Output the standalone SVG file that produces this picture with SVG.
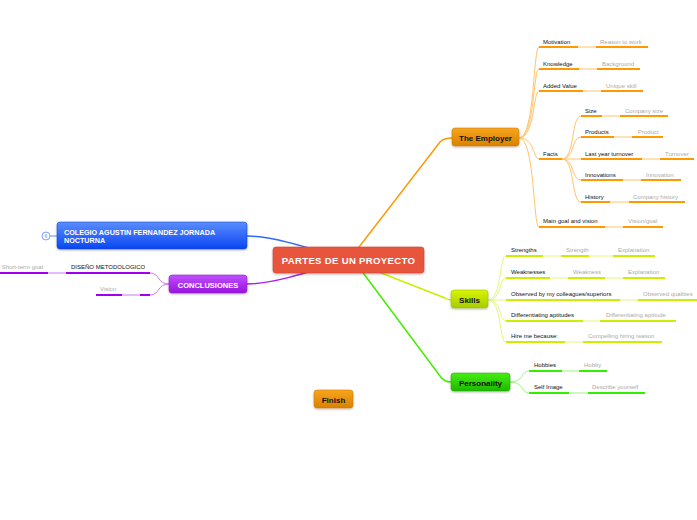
<svg xmlns="http://www.w3.org/2000/svg" width="697" height="520" viewBox="0 0 697 520">
<defs>
<linearGradient id="gOr" x1="0" y1="0" x2="0" y2="1"><stop offset="0" stop-color="#f7a51c"/><stop offset="1" stop-color="#d98100"/></linearGradient>
<linearGradient id="gLi" x1="0" y1="0" x2="0" y2="1"><stop offset="0" stop-color="#d8f500"/><stop offset="1" stop-color="#a6cc00"/></linearGradient>
<linearGradient id="gGr" x1="0" y1="0" x2="0" y2="1"><stop offset="0" stop-color="#44ee11"/><stop offset="1" stop-color="#1fb800"/></linearGradient>
<linearGradient id="gBl" x1="0" y1="0" x2="0" y2="1"><stop offset="0" stop-color="#5a8cff"/><stop offset="1" stop-color="#0a46f0"/></linearGradient>
<linearGradient id="gPu" x1="0" y1="0" x2="0" y2="1"><stop offset="0" stop-color="#c050ff"/><stop offset="1" stop-color="#9a12dd"/></linearGradient>
<filter id="sh" x="-10%" y="-20%" width="120%" height="150%"><feDropShadow dx="0" dy="1" stdDeviation="0.8" flood-color="#000" flood-opacity="0.3"/></filter>
</defs>
<style>
text{font-family:"Liberation Sans",Arial,sans-serif}
.nt{font-weight:bold;font-size:8px}
.c{font-size:6px;fill:#111}
.g{font-size:6px;fill:#aaa}
.u{fill:none;stroke-width:2}
.t{fill:none;stroke-width:1}
.o{stroke:#ff9900}.ol{stroke:#ffc46b}
.l{stroke:#ccee00}.ll{stroke:#e2f77a}
.e{stroke:#33ee00}.el{stroke:#99f57a}
.p{stroke:#a000ee}.pl{stroke:#cc77f7}
</style>
<rect width="697" height="520" fill="#fff"/>
<g id="connectors">
<path d="M349,260 L440,142 Q444,138 452,138" fill="none" stroke="#ff9900" stroke-width="1.5"/>
<path d="M348,260 L445,298 Q448,300 451,300" fill="none" stroke="#ccee00" stroke-width="1.5"/>
<path d="M355,262 L440,376 Q444,382 451,382" fill="none" stroke="#44ee00" stroke-width="1.5"/>
<path d="M348,260 C300,245 270,236 247,236" fill="none" stroke="#3366ff" stroke-width="1.5"/>
<path d="M348,260 C300,275 270,284 247,284" fill="none" stroke="#aa22ee" stroke-width="1.5"/>
<g class="t ol">
<path d="M519,138 C535,138 533,47 539,47"/>
<path d="M519,138 C535,138 533,69 539,69"/>
<path d="M519,138 C535,138 533,91 539,91"/>
<path d="M519,138 C535,138 533,159 539,159"/>
<path d="M519,138 C535,138 533,227 539,227"/>
<path d="M562,159 C575,159 571,116 581,116"/>
<path d="M562,159 C575,159 571,137 581,137"/>
<path d="M562,159 L581,159"/>
<path d="M562,159 C575,159 571,180 581,180"/>
<path d="M562,159 C575,159 571,202 581,202"/>
<path d="M578,47 H596 M579,69 H597 M583,91 H601 M602,116 H620 M614,137 H632 M642,159 H660 M623,180 H641 M610,202 H629 M605,227 H623"/>
</g>
<g class="t ll">
<path d="M488,300 C502,300 499,256 506,256"/>
<path d="M488,300 C502,300 499,278 506,278"/>
<path d="M488,300 L506,300"/>
<path d="M488,300 C502,300 499,321 506,321"/>
<path d="M488,300 C502,300 499,342 506,342"/>
<path d="M543,256 H561 M589,256 H613 M550,278 H568 M605,278 H623 M620,300 H638 M583,321 H600 M565,342 H583"/>
</g>
<g class="t el">
<path d="M510,382 C524,382 521,371 529,371"/>
<path d="M510,382 C524,382 521,393 529,393"/>
<path d="M562,371 H579 M569,393 H588"/>
</g>
<g class="t pl">
<path d="M169,284 C157,284 160,273 150,273"/>
<path d="M169,284 C157,284 160,295 150,295"/>
<path d="M48,273 H66 M122,295 H140"/>
</g>
<line x1="50" y1="236" x2="57" y2="236" stroke="#5a8cff" stroke-width="1"/>
</g>
<g id="center"><rect x="273" y="247" width="151" height="26" rx="3" fill="#e8553e" stroke="#d0432e" stroke-width="0.6" filter="url(#sh)"/><text x="348.5" y="264" text-anchor="middle" font-weight="bold" font-size="9.6" letter-spacing="0.3" fill="#fff">PARTES DE UN PROYECTO</text></g>
<g id="employer"><rect x="452" y="128" width="67" height="18" rx="3" fill="url(#gOr)" stroke="#c97600" stroke-width="0.5" filter="url(#sh)"/><text class="nt" x="485.5" y="140.5" text-anchor="middle" fill="#111">The Employer</text></g>
<g id="skills"><rect x="451" y="290" width="37" height="18" rx="3" fill="url(#gLi)" stroke="#9abb00" stroke-width="0.5" filter="url(#sh)"/><text class="nt" x="469.5" y="302.5" text-anchor="middle" fill="#111">Skills</text></g>
<g id="personality"><rect x="451" y="373" width="59" height="18" rx="3" fill="url(#gGr)" stroke="#1aa000" stroke-width="0.5" filter="url(#sh)"/><text class="nt" x="480.5" y="385.5" text-anchor="middle" fill="#111">Personality</text></g>
<g id="finish"><rect x="314" y="390" width="39" height="18" rx="3" fill="url(#gOr)" stroke="#c97600" stroke-width="0.5" filter="url(#sh)"/><text class="nt" x="333.5" y="402.5" text-anchor="middle" fill="#111">Finish</text></g>
<g id="colegio"><rect x="57" y="222" width="190" height="27" rx="3" fill="url(#gBl)" stroke="#0a3fd0" stroke-width="0.5" filter="url(#sh)"/><text x="64" y="234.5" font-weight="bold" font-size="7.2" fill="#fff">COLEGIO AGUSTIN FERNANDEZ JORNADA</text><text x="64" y="243" font-weight="bold" font-size="7.2" fill="#fff">NOCTURNA</text>
<circle cx="46" cy="236" r="4" fill="#fff" stroke="#5a8cff" stroke-width="0.8"/><text x="46" y="238" text-anchor="middle" font-size="5" fill="#5a8cff">6</text></g>
<g id="conclusiones"><rect x="169" y="275" width="78" height="18" rx="3" fill="url(#gPu)" stroke="#8a10c8" stroke-width="0.5" filter="url(#sh)"/><text x="208" y="287.5" text-anchor="middle" font-weight="bold" font-size="7.5" fill="#fff">CONCLUSIONES</text></g>
<g id="employer-children">
<g id="motivation"><path class="u o" d="M539,47 H578"/><text class="c" x="543" y="44">Motivation</text></g>
<g id="reason"><path class="u o" d="M596,47 H648"/><text class="g" x="600" y="44">Reason to work</text></g>
<g id="knowledge"><path class="u o" d="M539,69 H579"/><text class="c" x="543" y="66">Knowledge</text></g>
<g id="background"><path class="u o" d="M597,69 H640"/><text class="g" x="602" y="66">Background</text></g>
<g id="addedvalue"><path class="u o" d="M539,91 H583"/><text class="c" x="543" y="88">Added Value</text></g>
<g id="unique"><path class="u o" d="M601,91 H643"/><text class="g" x="606" y="88">Unique skill</text></g>
<g id="facts"><path class="u o" d="M539,159 H562"/><text class="c" x="543" y="156">Facts</text></g>
<g id="size"><path class="u o" d="M581,116 H602"/><text class="c" x="585" y="113">Size</text></g>
<g id="companysize"><path class="u o" d="M620,116 H668"/><text class="g" x="625" y="113">Company size</text></g>
<g id="products"><path class="u o" d="M581,137 H614"/><text class="c" x="585" y="134">Products</text></g>
<g id="product"><path class="u o" d="M632,137 H663"/><text class="g" x="638" y="134">Product</text></g>
<g id="turnover1"><path class="u o" d="M581,159 H642"/><text class="c" x="585" y="156">Last year turnover</text></g>
<g id="turnover2"><path class="u o" d="M660,159 H694"/><text class="g" x="665" y="156">Turnover</text></g>
<g id="innovations"><path class="u o" d="M581,180 H623"/><text class="c" x="585" y="177">Innovations</text></g>
<g id="innovation"><path class="u o" d="M641,180 H681"/><text class="g" x="646" y="177">Innovation</text></g>
<g id="history"><path class="u o" d="M581,202 H610"/><text class="c" x="585" y="199">History</text></g>
<g id="companyhistory"><path class="u o" d="M629,202 H685"/><text class="g" x="633" y="199">Company history</text></g>
<g id="maingoal"><path class="u o" d="M539,227 H605"/><text class="c" x="543" y="223">Main goal and vision</text></g>
<g id="visiongoal"><path class="u o" d="M623,227 H663"/><text class="g" x="628" y="223">Vision/goal</text></g>
</g>
<g id="skills-children">
<g id="strengths"><path class="u l" d="M506,256 H543"/><text class="c" x="511" y="252">Strengths</text></g>
<g id="strength"><path class="u l" d="M561,256 H589"/><text class="g" x="566" y="252">Strength</text></g>
<g id="expl1"><path class="u l" d="M613,256 H655"/><text class="g" x="618" y="252">Explanation</text></g>
<g id="weaknesses"><path class="u l" d="M506,278 H550"/><text class="c" x="511" y="274">Weaknesses</text></g>
<g id="weakness"><path class="u l" d="M568,278 H605"/><text class="g" x="573" y="274">Weakness</text></g>
<g id="expl2"><path class="u l" d="M623,278 H665"/><text class="g" x="628" y="274">Explanation</text></g>
<g id="observed"><path class="u l" d="M506,300 H620"/><text class="c" x="511" y="296">Observed by my colleagues/superiors</text></g>
<g id="observedq"><path class="u l" d="M638,300 H697"/><text class="g" x="643" y="296">Observed qualities</text></g>
<g id="diffs"><path class="u l" d="M506,321 H583"/><text class="c" x="511" y="317">Differentiating aptitudes</text></g>
<g id="diff"><path class="u l" d="M600,321 H676"/><text class="g" x="606" y="317">Differentiating aptitude</text></g>
<g id="hire"><path class="u l" d="M506,342 H565"/><text class="c" x="511" y="338">Hire me because:</text></g>
<g id="compelling"><path class="u l" d="M583,342 H662"/><text class="g" x="588" y="338">Compelling hiring reason</text></g>
</g>
<g id="personality-children">
<g id="hobbies"><path class="u e" d="M529,371 H562"/><text class="c" x="534" y="367">Hobbies</text></g>
<g id="hobby"><path class="u e" d="M579,371 H607"/><text class="g" x="584" y="367">Hobby</text></g>
<g id="selfimage"><path class="u e" d="M529,393 H569"/><text class="c" x="534" y="389">Self Image</text></g>
<g id="describe"><path class="u e" d="M588,393 H645"/><text class="g" x="592" y="389">Describe yourself</text></g>
</g>
<g id="conclusiones-children">
<g id="diseno"><path class="u p" d="M66,273 H150"/><text class="c" x="71" y="269">DISEÑO METODOLOGICO</text></g>
<g id="shortterm"><path class="u p" d="M0,273 H48"/><text class="g" x="43" y="269" text-anchor="end">Short-term goal</text></g>
<g id="empty"><path class="u p" d="M140,295 H150"/></g>
<g id="vision"><path class="u p" d="M96,295 H122"/><text class="g" x="100" y="291">Vision</text></g>
</g>
</svg>
